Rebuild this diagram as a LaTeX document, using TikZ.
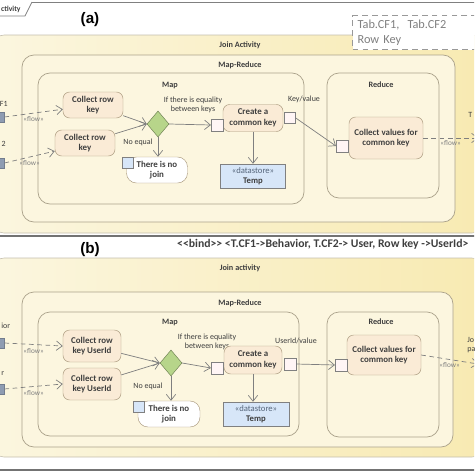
\documentclass[tikz,border=0pt]{standalone}
\usepackage{fontspec}
\setmainfont{Carlito}
\newfontfamily\panelfont{Liberation Sans}
\usetikzlibrary{shapes.geometric, arrows.meta}
\definecolor{yelL}{HTML}{FBF6DF}
\definecolor{yelR}{HTML}{F8EAB2}
\definecolor{cream}{HTML}{FCF6DF}
\definecolor{frameline}{HTML}{ABA28B}
\definecolor{peach}{HTML}{FAEBD6}
\definecolor{peachline}{HTML}{A8977B}
\definecolor{decgreen}{HTML}{B7D58A}
\definecolor{storeblue}{HTML}{D7E6F8}
\definecolor{storetext}{HTML}{55657A}
\definecolor{pinblue}{HTML}{8E9CB2}
\definecolor{txt}{HTML}{3E3E3E}
\definecolor{conn}{HTML}{7F7F7F}
\tikzstyle{joinarea} = [draw=frameline!70, line width=0.5pt, rounded corners=0.3cm, left color=yelL, right color=yelR]
\tikzstyle{region} = [draw=frameline, line width=0.6pt, rounded corners=0.36cm, fill=cream]
\tikzstyle{frametitle} = [font=\fontsize{7}{8}\selectfont\bfseries, text=txt]
\tikzstyle{action} = [rectangle, rounded corners=0.2cm, minimum width=1.8cm, minimum height=0.78cm, align=center, inner sep=1pt, draw=peachline, fill=peach, font=\fontsize{7.6}{9}\selectfont\bfseries, text=txt]
\tikzstyle{decision} = [diamond, minimum width=0.66cm, minimum height=0.78cm, inner sep=0pt, draw=decgreen!60!black, fill=decgreen]
\tikzstyle{portbox} = [rectangle, minimum width=0.35cm, minimum height=0.35cm, inner sep=0pt, draw=gray, fill=red!4]
\tikzstyle{store} = [rectangle, minimum width=1.95cm, minimum height=0.72cm, align=center, inner sep=1pt, draw=gray, fill=storeblue, text=txt, font=\fontsize{7.4}{8.8}\selectfont]
\tikzstyle{endjoin} = [rectangle, rounded corners=0.3cm, minimum width=1.83cm, minimum height=0.78cm, align=center, inner sep=1pt, draw=peachline, fill=white, font=\fontsize{7.6}{9}\selectfont\bfseries, text=txt]
\tikzstyle{bluepin} = [rectangle, minimum width=0.34cm, minimum height=0.32cm, inner sep=0pt, draw=gray, fill=storeblue]
\tikzstyle{parpin} = [rectangle, minimum width=0.25cm, minimum height=0.3cm, inner sep=0pt, draw=pinblue!80!black, fill=pinblue]
\tikzstyle{lbl} = [text=txt, align=center, inner sep=1pt, font=\fontsize{6.8}{8}\selectfont]
\tikzstyle{flowlbl} = [text=gray, inner sep=1pt, font=\fontsize{6.2}{7}\selectfont]
\tikzstyle{arrow} = [draw=conn, line width=0.6pt, -{Straight Barb[length=5pt, width=8pt]}]
\tikzstyle{flow} = [arrow, dash pattern=on 4pt off 3pt]

\begin{document}
\begin{tikzpicture}[x=0.03cm, y=-0.03cm, font=\fontsize{7}{8.5}\selectfont]
	\useasboundingbox (0,0) rectangle (474,474);
	\clip (0,0) rectangle (474,474);
	% (a)
	\draw [joinarea] (-6,35) rectangle (482,233);
	\draw [draw=gray, line width=0.8pt] (-2,2) -- (476,2);
	\draw [draw=gray, fill=white, line width=0.6pt] (-2,2) -- (-2,16) -- (25,16) -- (32,2);
	\draw [draw=gray!90!black, line width=1.6pt] (-2,236) -- (476,236);
	\node (tabA) [anchor=west, inner sep=0pt, text=txt, font=\fontsize{6.5}{7}\selectfont\bfseries] at (1,9) {ctivity};
	\node (capA) [font=\panelfont\fontsize{13}{15}\selectfont\bfseries] at (90,20) {(a)};
	\node (noteA) [anchor=north west, draw=gray!80, fill=white, line width=1pt, dash pattern=on 5pt off 3.5pt, minimum width=3.9cm, minimum height=1.02cm, text width=3.6cm, align=left, text=gray, font=\fontsize{10.5}{12.5}\selectfont] at (352,15) {Tab.CF1,\ \ Tab.CF2\\Row Key};
	\node (joinA) [frametitle] at (240,45) {Join Activity};
	\draw [region] (22,55) rectangle (455,222);
	\node (mrA) [frametitle] at (240,65) {Map-Reduce};
	\draw [region] (38,73) rectangle (304,204);
	\node (mapA) [frametitle] at (170,85) {Map};
	\draw [region] (327,73) rectangle (439,198);
	\node (redA) [frametitle] at (381,85) {Reduce};

	\node (collA1) [action] at (93,105) {Collect row\\key};
	\node (collA2) [action] at (85,143) {Collect row\\key};
	\node (decA) [decision] at (158,124) {};
	\node (eqA) [lbl] at (193,105) {If there is equality\\between keys};
	\node (neA) [lbl] at (138,142) {No equal};
	\node (createA) [action, minimum height=0.81cm] at (253,118) {Create a\\common key};
	\node (inA) [portbox] at (217,125) {};
	\node (outA) [portbox, minimum width=0.33cm, minimum height=0.33cm] at (290,118) {};
	\node (kvA) [lbl] at (304,99) {Key/value};
	\node (tempA) [store] at (253,176) {{\color{storetext}«datastore»}\\\textbf{Temp}};
	\node (nojoinA) [endjoin] at (157,170) {There is no\\join};
	\node (bpA) [bluepin] at (128,163) {};
	\node (valA) [action, minimum width=2.22cm, minimum height=1.26cm] at (386,138) {Collect values for\\common key};
	\node (inRA) [portbox] at (342,146) {};
	\coordinate (exitA) at (478,138);
	\node (outL1A) [parpin] at (0,117) {};
	\node (outL2A) [parpin] at (0,163) {};
	\node (nmL1A) [lbl, anchor=east] at (9,104) {F1};
	\node (nmL2A) [lbl, anchor=east] at (7,144) {2};
	\node (nmRA) [lbl, anchor=west] at (467,115) {T};

	\draw [arrow] (collA1) -- (decA.west);
	\draw [arrow] (collA2) -- (decA.west);
	\draw [arrow] (decA.east) -- (inA.west);
	\draw [arrow] (decA.south) -- (decA.south |- nojoinA.north);
	\draw [arrow] (createA.south) -- (tempA.north);
	\draw [arrow] (outA.east) -- (inRA.west);
	\draw [flow] (valA.east) -- node[flowlbl, below=1pt] {«flow»} (exitA);
	\draw [flow] (outL1A.east) -- node[flowlbl, below=2pt] {«flow»} (collA1.188);
	\draw [flow] (outL2A.east) -- node[flowlbl, below=2pt] {«flow»} (collA2.195);

	% (b)
	\draw [joinarea] (-6,258) rectangle (482,457);
	\draw [draw=gray!90!black, line width=1.6pt] (-2,470) -- (476,470);
	\node (capB) [font=\panelfont\fontsize{13}{15}\selectfont\bfseries] at (90,250) {(b)};
	\node (bindB) [anchor=west, inner sep=0pt, text=txt, font=\fontsize{10}{11}\selectfont\bfseries] at (177,244) {<{}<bind>{}> <T.CF1->Behavior, T.CF2-> User, Row key ->UserId>};
	\node (joinB) [frametitle] at (240,268) {Join activity};
	\draw [region] (22,292) rectangle (453,447);
	\node (mrB) [frametitle] at (240,303) {Map-Reduce};
	\draw [region] (38,312) rectangle (299,436);
	\node (mapB) [frametitle] at (170,322) {Map};
	\draw [region] (327,312) rectangle (439,437);
	\node (redB) [frametitle] at (381,322) {Reduce};

	\node (collB1) [action, minimum width=1.74cm, minimum height=0.96cm] at (92,346) {Collect row\\key UserId};
	\node (collB2) [action, minimum width=1.74cm, minimum height=0.96cm] at (92,384) {Collect row\\key UserId};
	\node (decB) [decision] at (171,363) {};
	\node (eqB) [lbl] at (207,342) {If there is equality\\between keys};
	\node (neB) [lbl] at (148,386) {No equal};
	\node (createB) [action, minimum width=1.74cm, minimum height=0.84cm] at (253,360) {Create a\\common key};
	\node (inB) [portbox] at (217,368) {};
	\node (outB) [portbox] at (290,364) {};
	\node (uvB) [lbl] at (296,341) {UserId/value};
	\node (tempB) [store, minimum width=1.98cm] at (256,414) {{\color{storetext}«datastore»}\\\textbf{Temp}};
	\node (nojoinB) [endjoin, minimum width=1.86cm] at (169,414) {There is no\\join};
	\node (bpB) [bluepin] at (139,407) {};
	\node (valB) [action, minimum width=2.22cm, minimum height=1.2cm] at (384,355) {Collect values for\\common key};
	\node (inRB) [portbox] at (341,365) {};
	\coordinate (exitB) at (478,364);
	\node (outL1B) [parpin] at (0,343) {};
	\node (outL2B) [parpin] at (0,389) {};
	\node (nmL1B) [lbl, anchor=west] at (0,326) {ior};
	\node (nmL2B) [lbl, anchor=west] at (0,374) {r};
	\node (nmRB) [lbl, anchor=west, align=left] at (466,345) {Jo\\pa};

	\draw [arrow] (collB1) -- (decB.west);
	\draw [arrow] (collB2) -- (decB.west);
	\draw [arrow] (decB.east) -- (inB.west);
	\draw [arrow] (decB.south) -- (decB.south |- nojoinB.north);
	\draw [arrow] (createB.south) -- (createB.south |- tempB.north);
	\draw [arrow] (outB.east) -- (inRB.west);
	\draw [flow] (valB.east) -- node[flowlbl, below=1pt] {«flow»} (exitB);
	\draw [flow] (outL1B.east) -- node[flowlbl, below=2pt] {«flow»} (collB1.west);
	\draw [flow] (outL2B.east) -- node[flowlbl, below=2pt] {«flow»} (collB2.west);
\end{tikzpicture}
\end{document}
